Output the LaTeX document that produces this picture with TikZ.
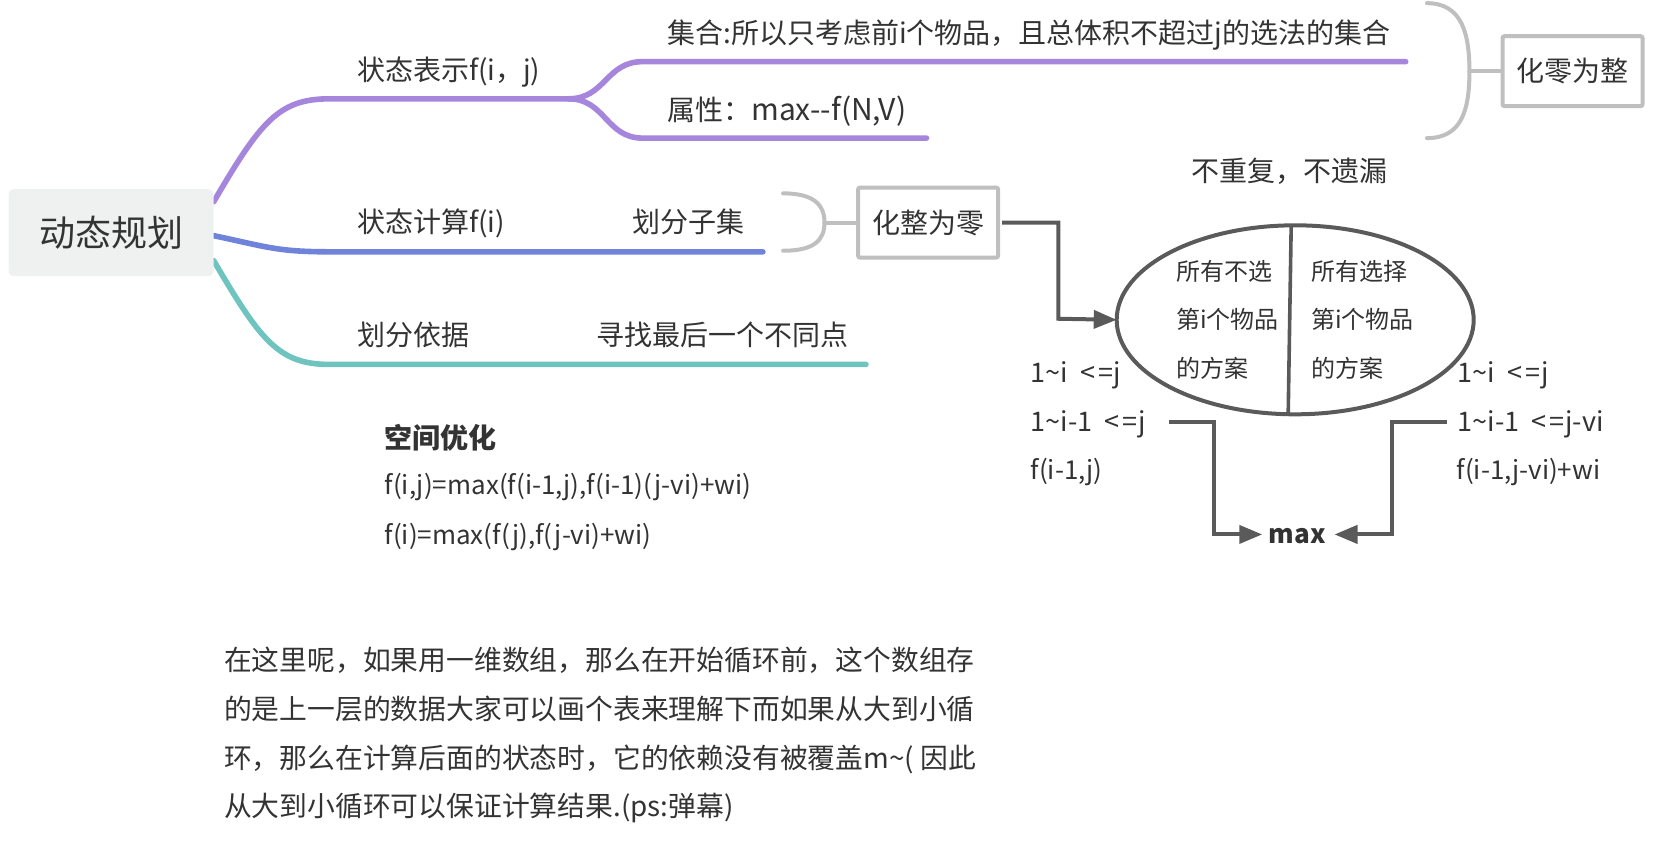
\documentclass[tikz,border=0pt]{standalone}
\usepackage{fontspec}
\usetikzlibrary{arrows.meta,shapes.geometric,backgrounds}
\setmainfont{Noto Sans CJK SC}
\definecolor{ink}{HTML}{333333}
\definecolor{purp}{HTML}{A586DC}
\definecolor{blu}{HTML}{7083DB}
\definecolor{teal2}{HTML}{70C4C0}
\definecolor{gry}{HTML}{BFBFBF}
\definecolor{dark}{HTML}{5A5A5A}
\definecolor{rootfill}{HTML}{EFF1F0}
\newcommand{\lessq}{\hspace{12pt}<\hspace{3pt}=\hspace{1pt}}
\tikzset{
  x=1.0625pt,y=-1.0625pt,
  txt/.style={inner sep=0pt,outer sep=0pt,anchor=base west,text=ink,font=\fontsize{28}{28}\selectfont},
  para/.style={txt,font=\fontsize{27.8}{28}\selectfont},
  mid/.style={txt,font=\fontsize{26}{26}\selectfont},
  wide/.style={txt,font=\fontsize{27}{27}\selectfont},
  small/.style={txt,font=\fontsize{24}{24}\selectfont},
  branch/.style={line width=5.6pt,line cap=round},
  bracket/.style={line width=4pt,draw=gry,line cap=round},
  boxed/.style={draw=gry,line width=4pt,rounded corners=2pt,fill=white,inner sep=0pt,minimum width=140pt,minimum height=70pt,text=ink,font=\fontsize{28}{28}\selectfont},
  conn/.style={draw=dark,line width=4pt,-{Triangle[length=23pt,width=18pt]}},
}
\begin{document}
\begin{tikzpicture}
\useasboundingbox (0,0) rectangle (1568,792.47);
% root
\node[fill=rootfill,rounded corners=5pt,minimum width=205pt,minimum height=87pt,inner sep=0pt,text=ink,font=\fontsize{36}{36}\selectfont] (root) at (104.5,219) {动态规划};
% fork and free ends
\coordinate (forkA) at (535,93);
\coordinate (endA) at (1323,58);
\coordinate (endB) at (872,130);
\coordinate (endC) at (718,237);
\coordinate (endD) at (815,343);
\begin{pgfonlayer}{background}
\draw[branch,purp] ([yshift=31pt]root.east) .. controls (245,115) and (262,93) .. (310,93) -- (forkA);
\draw[branch,purp] (forkA) .. controls (570,93) and (570,58) .. (605,58) -- (endA);
\draw[branch,purp] (forkA) .. controls (570,93) and (570,130) .. (605,130) -- (endB);
\draw[branch,blu] ([yshift=-3pt]root.east) .. controls (250,232) and (260,237) .. (310,237) -- (endC);
\draw[branch,teal2] ([yshift=-28pt]root.east) .. controls (245,320) and (262,343) .. (310,343) -- (endD);
\end{pgfonlayer}
% labels on the branches
\node[txt] (t1) at (628,41) {集合:所以只考虑前i个物品，且总体积不超过j的选法的集合};
\node[txt] (t2) at (336,76) {状态表示f(i，j)};
\node[txt] (t3) at (628,113) {属性：{\fontsize{30}{30}\selectfont max-{}-f(N,V)}};
\node[txt] (t4) at (336,219) {状态计算f(i)};
\node[txt] (t5) at (595,219) {划分子集};
\node[txt] (t6) at (336,325) {划分依据};
\node[txt] (t7) at (561,325) {寻找最后一个不同点};
\node[txt] (t8) at (1121,171) {不重复，不遗漏};
% boxes and brackets
\node[boxed] (whole) at (1480,67) {化零为整};
\node[boxed] (parts) at (873.5,209.5) {化整为零};
\coordinate (ba) at (1343,3);
\coordinate (bb) at (1343,130);
\coordinate (bm) at (1383,67);
\draw[bracket] (ba) .. controls (1375,3) and (1383,30) .. (bm) .. controls (1383,105) and (1375,130) .. (bb);
\draw[bracket] (bm) -- (whole.west);
\coordinate (ca) at (737,182);
\coordinate (cb) at (737,236);
\coordinate (cm) at (776,209.5);
\draw[bracket] (ca) .. controls (765,182) and (776,192) .. (cm) .. controls (776,227) and (765,236) .. (cb);
\draw[bracket] (cm) -- (parts.west);
% ellipse
\node[draw=dark,line width=4pt,ellipse,minimum width=357pt,minimum height=189pt,inner sep=0pt,outer sep=0pt] (oval) at (1219,301) {};
\draw[draw=dark,line width=3.6pt] ([xshift=-4pt]oval.north) -- ([xshift=-7pt]oval.south);
\node[small] (a1) at (1107,264) {所有不选};
\node[small] (a2) at (1107,309) {第i个物品};
\node[small] (a3) at (1107,355) {的方案};
\node[small] (b1) at (1234,264) {所有选择};
\node[small] (b2) at (1234,309) {第i个物品};
\node[small] (b3) at (1234,355) {的方案};
\coordinate (k1) at (996,209.5);
\coordinate (k2) at (996,300);
\draw[conn] ([xshift=2pt]parts.east) -- (k1) -- (k2) -- (oval.west);
% side formulas
\node[wide] (l1) at (970,360) {1\textasciitilde i\lessq j};
\node[wide] (l2) at (970,406) {1\textasciitilde i-1\lessq j};
\node[mid] (l3) at (970,451) {f(i-1,j)};
\node[wide] (r1) at (1372,360) {1\textasciitilde i\lessq j};
\node[wide] (r2) at (1372,406) {1\textasciitilde i-1\lessq j-vi};
\node[mid] (r3) at (1371,451) {f(i-1,j-vi)+wi};
\node[txt,inner sep=0pt,anchor=center,font=\fontsize{26}{26}\selectfont\bfseries] (mx) at (1221,504.5) {max};
\coordinate (m0) at (1100,397);
\coordinate (m1) at (1143,397);
\coordinate (m2) at (1143,503);
\coordinate (m5) at (1362,397);
\coordinate (m3) at (1310,397);
\coordinate (m4) at (1310,503);
\coordinate (m6) at (1188,503);
\coordinate (m7) at (1256,503);
\draw[conn] (m0) -- (m1) -- (m2) -- (m6);
\draw[conn] (m5) -- (m3) -- (m4) -- (m7);
% optimisation block
\node[txt,font=\fontsize{28}{28}\selectfont\bfseries] (o1) at (362,422) {空间优化};
\node[mid] (o2) at (362,465) {f(i,j)=max(f(i-1,j),f(i-1)(j-vi)+wi)};
\node[mid] (o3) at (362,512) {f(i)=max(f(j),f(j-vi)+wi)};
% paragraph
\node[para] (p1) at (211,631) {在这里呢，如果用一维数组，那么在开始循环前，这个数组存};
\node[para] (p2) at (211,677) {的是上一层的数据大家可以画个表来理解下而如果从大到小循};
\node[para] (p3) at (211,723) {环，那么在计算后面的状态时，它的依赖没有被覆盖m\textasciitilde ( 因此};
\node[para] (p4) at (211,768) {从大到小循环可以保证计算结果.(ps:弹幕)};
\end{tikzpicture}
\end{document}
